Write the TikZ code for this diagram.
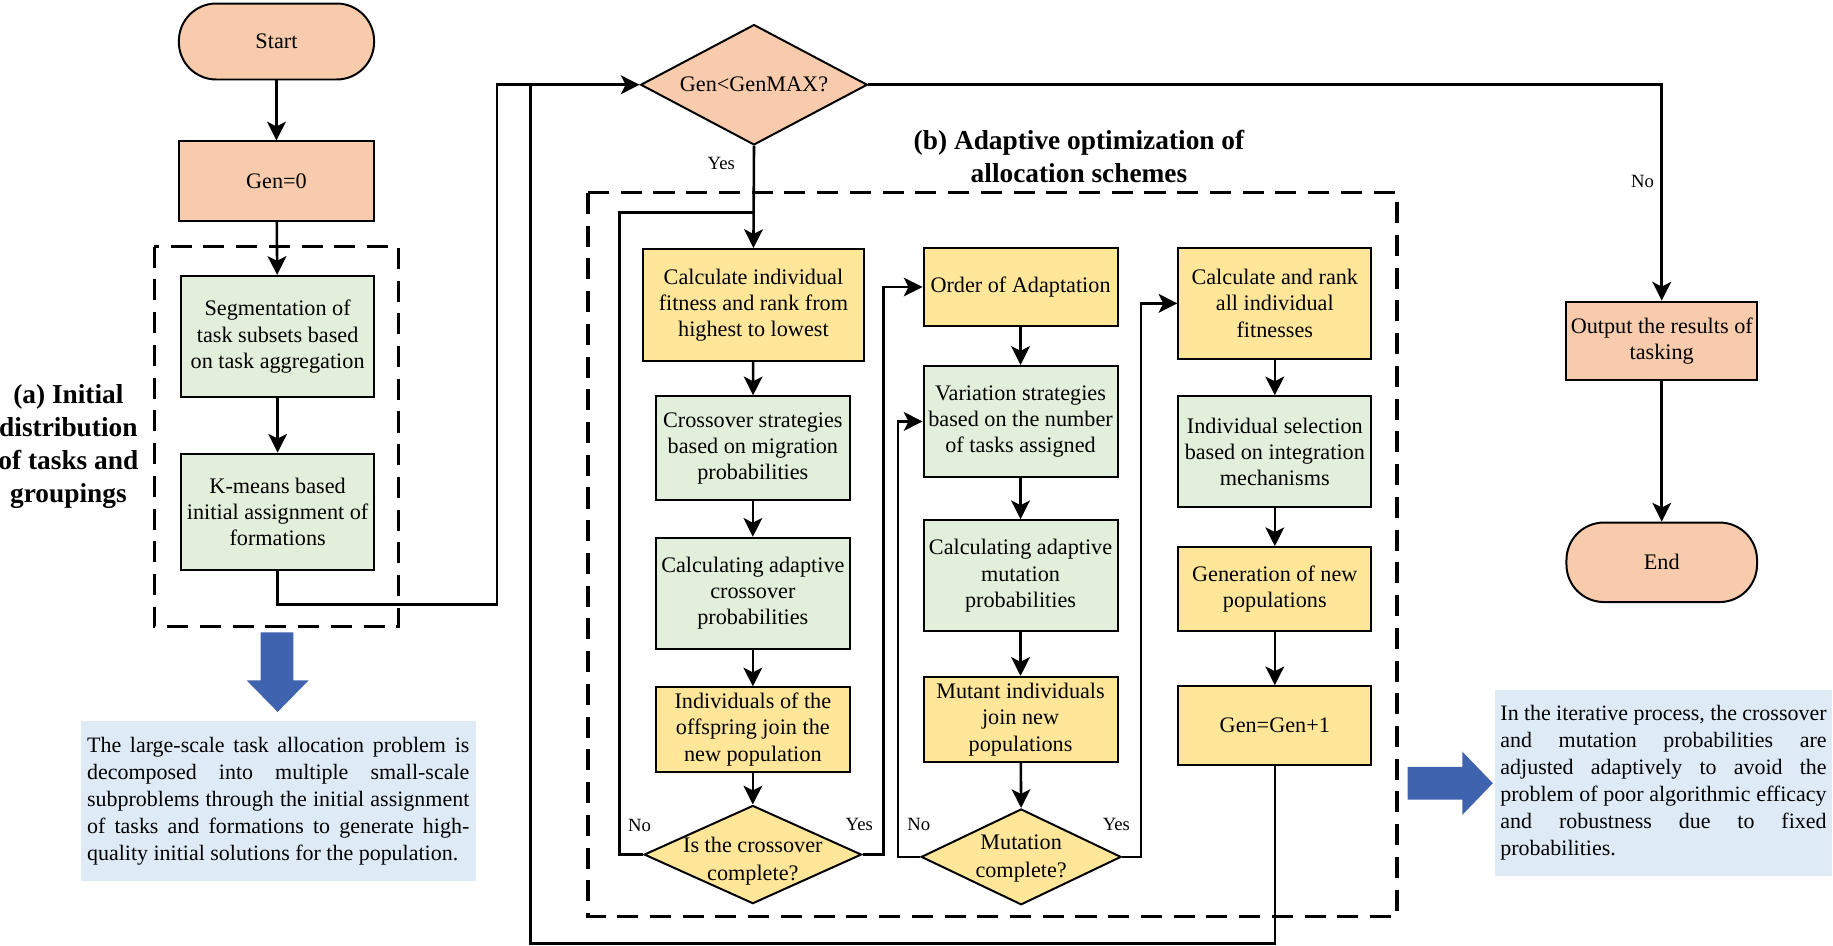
\documentclass[tikz,border=0pt]{standalone}
\usepackage{fontspec}
\setmainfont{Liberation Serif}
\usetikzlibrary{arrows.meta,shapes.geometric}
\definecolor{cpeach}{HTML}{F8CBAD}
\definecolor{cgreen}{HTML}{E2EFDA}
\definecolor{cyellow}{HTML}{FFE699}
\definecolor{cblue}{HTML}{DEEBF7}
\definecolor{carrow}{HTML}{3F63AE}
\newcommand{\nfont}{\fontsize{9.5}{11.2}\selectfont}
\newcommand{\dfnt}{\fontsize{9.5}{12}\selectfont}
\newcommand{\bfnt}{\fontsize{11.7}{14}\selectfont\bfseries}
\newcommand{\sfnt}{\fontsize{8}{9.6}\selectfont}
\newcommand{\pfnt}{\fontsize{9.4}{11.6}\selectfont}
\tikzset{
  box/.style={draw, line width=0.85pt, align=center, inner sep=1pt, font=\nfont},
  stad/.style={box, rounded corners=16pt},
  dia/.style={draw, diamond, line width=0.85pt, inner sep=0pt},
  dtext/.style={align=center, font=\dfnt},
  arr/.style={line width=1.1pt, -{Stealth[length=8pt,width=8pt,inset=2pt]}},
  ln/.style={line width=1.1pt},
  dbox/.style={draw, line width=1.3pt, dash pattern=on 9pt off 5pt},
  lbl/.style={font=\sfnt, inner sep=0pt},
  note/.style={fill=cblue, align=justify, font=\pfnt, inner ysep=0pt}
}
\begin{document}
\begin{tikzpicture}[x=0.5pt,y=-0.5pt]
\useasboundingbox (0,0) rectangle (1568,809);

% dashed group frames
\draw[dbox] (132,211) rectangle (341,536);
\draw[dbox] (503,165) rectangle (1195,784);

% left column
\node[stad, fill=cpeach, minimum width=83.5pt, minimum height=32.5pt] (start) at (236.5,35.5) {Start};
\node[box, fill=cpeach, minimum width=83.5pt, minimum height=34pt] (g0) at (236.5,155) {Gen=0};
\node[box, fill=cgreen, minimum width=82.5pt, minimum height=52pt] (seg) at (237.5,288) {Segmentation of\\task subsets based\\on task aggregation};
\node[box, fill=cgreen, minimum width=82.5pt, minimum height=50pt] (km) at (237.5,438) {K-means based\\initial assignment of\\formations};

\node[font=\bfnt, align=center, inner sep=0pt] (lbla) at (58.5,382) {(a) Initial\\distribution\\of tasks and\\groupings};

% top decision
\node[dia, fill=cpeach, minimum width=97pt, minimum height=51.5pt] (gm) at (645,72.5) {};
\node[dtext] (gmt) at (gm.center) {Gen<GenMAX?};

\node[font=\bfnt, align=center, inner sep=0pt] (lblb) at (923,134) {(b) Adaptive optimization of\\allocation schemes};

% column 1
\node[box, fill=cyellow, minimum width=94.5pt, minimum height=48pt] (calc) at (644.5,261) {Calculate individual\\fitness and rank from\\highest to lowest};
\node[box, fill=cgreen, minimum width=83pt, minimum height=44.5pt] (cross) at (644,383.5) {Crossover strategies\\based on migration\\probabilities};
\node[box, fill=cgreen, minimum width=83pt, minimum height=47.5pt] (ccross) at (644,507.5) {Calculating adaptive\\crossover\\probabilities};
\node[box, fill=cyellow, minimum width=83pt, minimum height=36pt] (indiv) at (644,624) {Individuals of the\\offspring join the\\new population};
\node[dia, fill=cyellow, minimum width=93pt, minimum height=42pt] (d1) at (644,731) {};
\node[dtext] (d1t) at (644,737) {Is the crossover\\complete?};

% column 2
\node[box, fill=cyellow, minimum width=83pt, minimum height=33.5pt] (order) at (873,245.5) {Order of Adaptation};
\node[box, fill=cgreen, minimum width=83pt, minimum height=47.5pt] (var) at (873,360.5) {Variation strategies\\based on the number\\of tasks assigned};
\node[box, fill=cgreen, minimum width=83pt, minimum height=47.5pt] (cmut) at (873,492.5) {Calculating adaptive\\mutation\\probabilities};
\node[box, fill=cyellow, minimum width=83pt, minimum height=36.5pt] (mutant) at (873,615.5) {Mutant individuals\\join new\\populations};
\node[dia, fill=cyellow, minimum width=85.5pt, minimum height=41pt] (d2) at (873.5,733) {};
\node[dtext] (d2t) at (873.5,734) {Mutation\\complete?};

% column 3
\node[box, fill=cyellow, minimum width=82.5pt, minimum height=47.5pt] (rank) at (1090.5,259.5) {Calculate and rank\\all individual\\fitnesses};
\node[box, fill=cgreen, minimum width=82.5pt, minimum height=47.5pt] (sel) at (1090.5,386.5) {Individual selection\\based on integration\\mechanisms};
\node[box, fill=cyellow, minimum width=82.5pt, minimum height=36pt] (gnew) at (1090.5,504) {Generation of new\\populations};
\node[box, fill=cyellow, minimum width=82.5pt, minimum height=33.5pt] (ginc) at (1090.5,620.5) {Gen=Gen+1};

% right column
\node[box, fill=cpeach, minimum width=81.5pt, minimum height=33.5pt] (out) at (1421.5,291.5) {Output the results of\\tasking};
\node[stad, fill=cpeach, minimum width=81.5pt, minimum height=34pt] (end) at (1421.5,481) {End};

% notes
\node[note, text width=163.5pt, inner xsep=2.75pt, minimum height=68.5pt] (nl) at (238,685.5) {The large-scale task allocation problem is\linebreak decomposed into multiple small-scale\linebreak subproblems through the initial assignment\linebreak of tasks and formations to generate high-\linebreak quality initial solutions for the population.};
\node[note, text width=139.5pt, inner xsep=2.25pt, minimum height=79.5pt] (nr) at (1423,669.5) {In the iterative process, the crossover\linebreak and mutation probabilities are\linebreak adjusted adaptively to avoid the\linebreak problem of poor algorithmic efficacy\linebreak and robustness due to fixed\linebreak probabilities.};

% block arrows
\fill[carrow] (223,541) -- (251,541) -- (251,582) -- (264,582) -- (237.5,609) -- (211,582) -- (223,582) -- cycle;
\fill[carrow] (1204,656) -- (1251,656) -- (1251,643) -- (1277,670) -- (1251,697) -- (1251,684) -- (1204,684) -- cycle;

% coordinates
\coordinate (m1) at (425,517);
\coordinate (m2) at (454,807);
\coordinate (jm) at (454,72.5);
\coordinate (lp1) at (530,182);
\coordinate (jn1) at (645,182);

% connectors
\draw[arr] (start) -- (g0);
\draw[arr] (g0) -- (seg);
\draw[arr] (seg) -- (km);
\draw[arr] (km.south) |- (m1) |- (gm.west);
\draw[ln] (ginc.south) |- (m2) -- (jm);
\draw[arr] (gm.south) -- (calc.north);
\draw[arr] (gm.east) -| (out.north);
\draw[arr] (out) -- (end);

\draw[arr] (calc) -- (cross);
\draw[arr] (cross) -- (ccross);
\draw[arr] (ccross) -- (indiv);
\draw[arr] (indiv) -- (d1.north);
\draw[ln] (d1.west) -| (lp1) -- (jn1);
\draw[arr] (d1.east) -- ++(18,0) |- (order.west);

\draw[arr] (order) -- (var);
\draw[arr] (var) -- (cmut);
\draw[arr] (cmut) -- (mutant);
\draw[arr] (mutant) -- (d2.north);
\draw[arr] (d2.west) -- ++(-19,0) |- (var.west);
\draw[arr] (d2.east) -- ++(16,0) |- (rank.west);

\draw[arr] (rank) -- (sel);
\draw[arr] (sel) -- (gnew);
\draw[arr] (gnew) -- (ginc);

% labels
\node[lbl] (y0) at (617,140) {Yes};
\node[lbl] (n0) at (1405,155) {No};
\node[lbl] (n1) at (547,706) {No};
\node[lbl] (y1) at (735,705) {Yes};
\node[lbl] (n2) at (786,705) {No};
\node[lbl] (y2) at (955,705) {Yes};
\end{tikzpicture}
\end{document}
